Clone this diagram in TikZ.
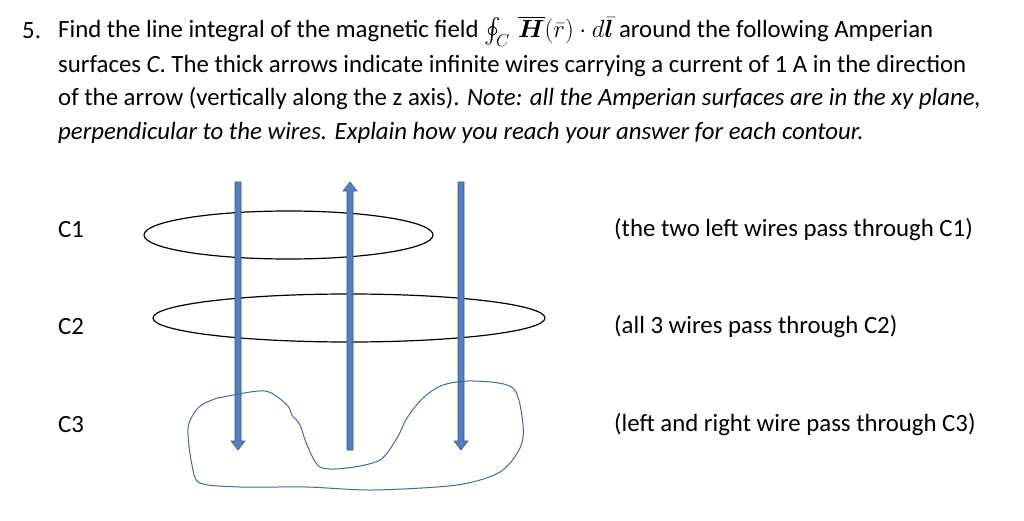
\documentclass[tikz,border=0pt]{standalone}
\usepackage{amsmath,bm}
\usepackage{fontspec}
\setmainfont{Carlito}
\usetikzlibrary{arrows.meta}
\begin{document}
\begin{tikzpicture}[x=1pt,y=-1pt,
  txt/.style={anchor=west,inner sep=0pt,font=\fontsize{24.8}{28}\selectfont},
  wire/.style={draw=blue!40!black!70,fill={rgb,255:red,79;green,129;blue,189},line width=0.6pt},
  loop/.style={draw=black,line width=1.2pt},
  curve/.style={draw={rgb,255:red,65;green,105;blue,160},line width=1pt,line join=round}]
\useasboundingbox (0,0) rectangle (1024,521);
\node[txt] (n5) at (22,31) {5.};
\node[txt] (l1) at (58,31) {Find the line integral of the magnetic field $\oint_C\, \overline{\bm H}(\bar r)\cdot d\bar{\bm l}$ around the following Amperian};
\node[txt] (l2) at (58,66) {surfaces \textit{C}. The thick arrows indicate infinite wires carrying a current of 1 A in the direction};
\node[txt] (l3) at (58,99) {of the arrow (vertically along the z axis). \textit{Note: all the Amperian surfaces are in the xy plane,}};
\node[txt] (l4) at (58,133) {\textit{perpendicular to the wires. Explain how you reach your answer for each contour.}};
\node[txt] (c1) at (58,230) {C1};
\node[txt] (c2) at (58,327) {C2};
\node[txt] (c3) at (58,425) {C3};
\node[txt] (r1) at (614,230) {(the two left wires pass through C1)};
\node[txt] (r2) at (614,327) {(all 3 wires pass through C2)};
\node[txt] (r3) at (614,425) {(left and right wire pass through C3)};
% ellipses
\draw[loop] (288.5,235) ellipse [x radius=144.5,y radius=24];
\draw[loop] (349,318) ellipse [x radius=196,y radius=24];
% wires
\path[wire] (235,182) -- (241,182) -- (241,441) -- (245,441) -- (238,450) -- (231,441) -- (235,441) -- cycle;
\path[wire] (347,450) -- (353,450) -- (353,191) -- (357,191) -- (350,182) -- (343,191) -- (347,191) -- cycle;
\path[wire] (458,182) -- (464,182) -- (464,441) -- (468,441) -- (461,450) -- (454,441) -- (458,441) -- cycle;
% C3 contour
\draw[curve] plot[smooth cycle,tension=0.5] coordinates {(223,397) (265,391) (287,405) (292,415) (300,425) (307,445) (320,467) (347,468) (380,460) (397,438) (407,418) (423,398) (443,385) (473,381) (513,388) (523,425) (520,448) (500,472) (457,485) (373,490) (307,487) (240,487) (200,483) (192,465) (188,428) (198,408) (212,400)};
\end{tikzpicture}
\end{document}
